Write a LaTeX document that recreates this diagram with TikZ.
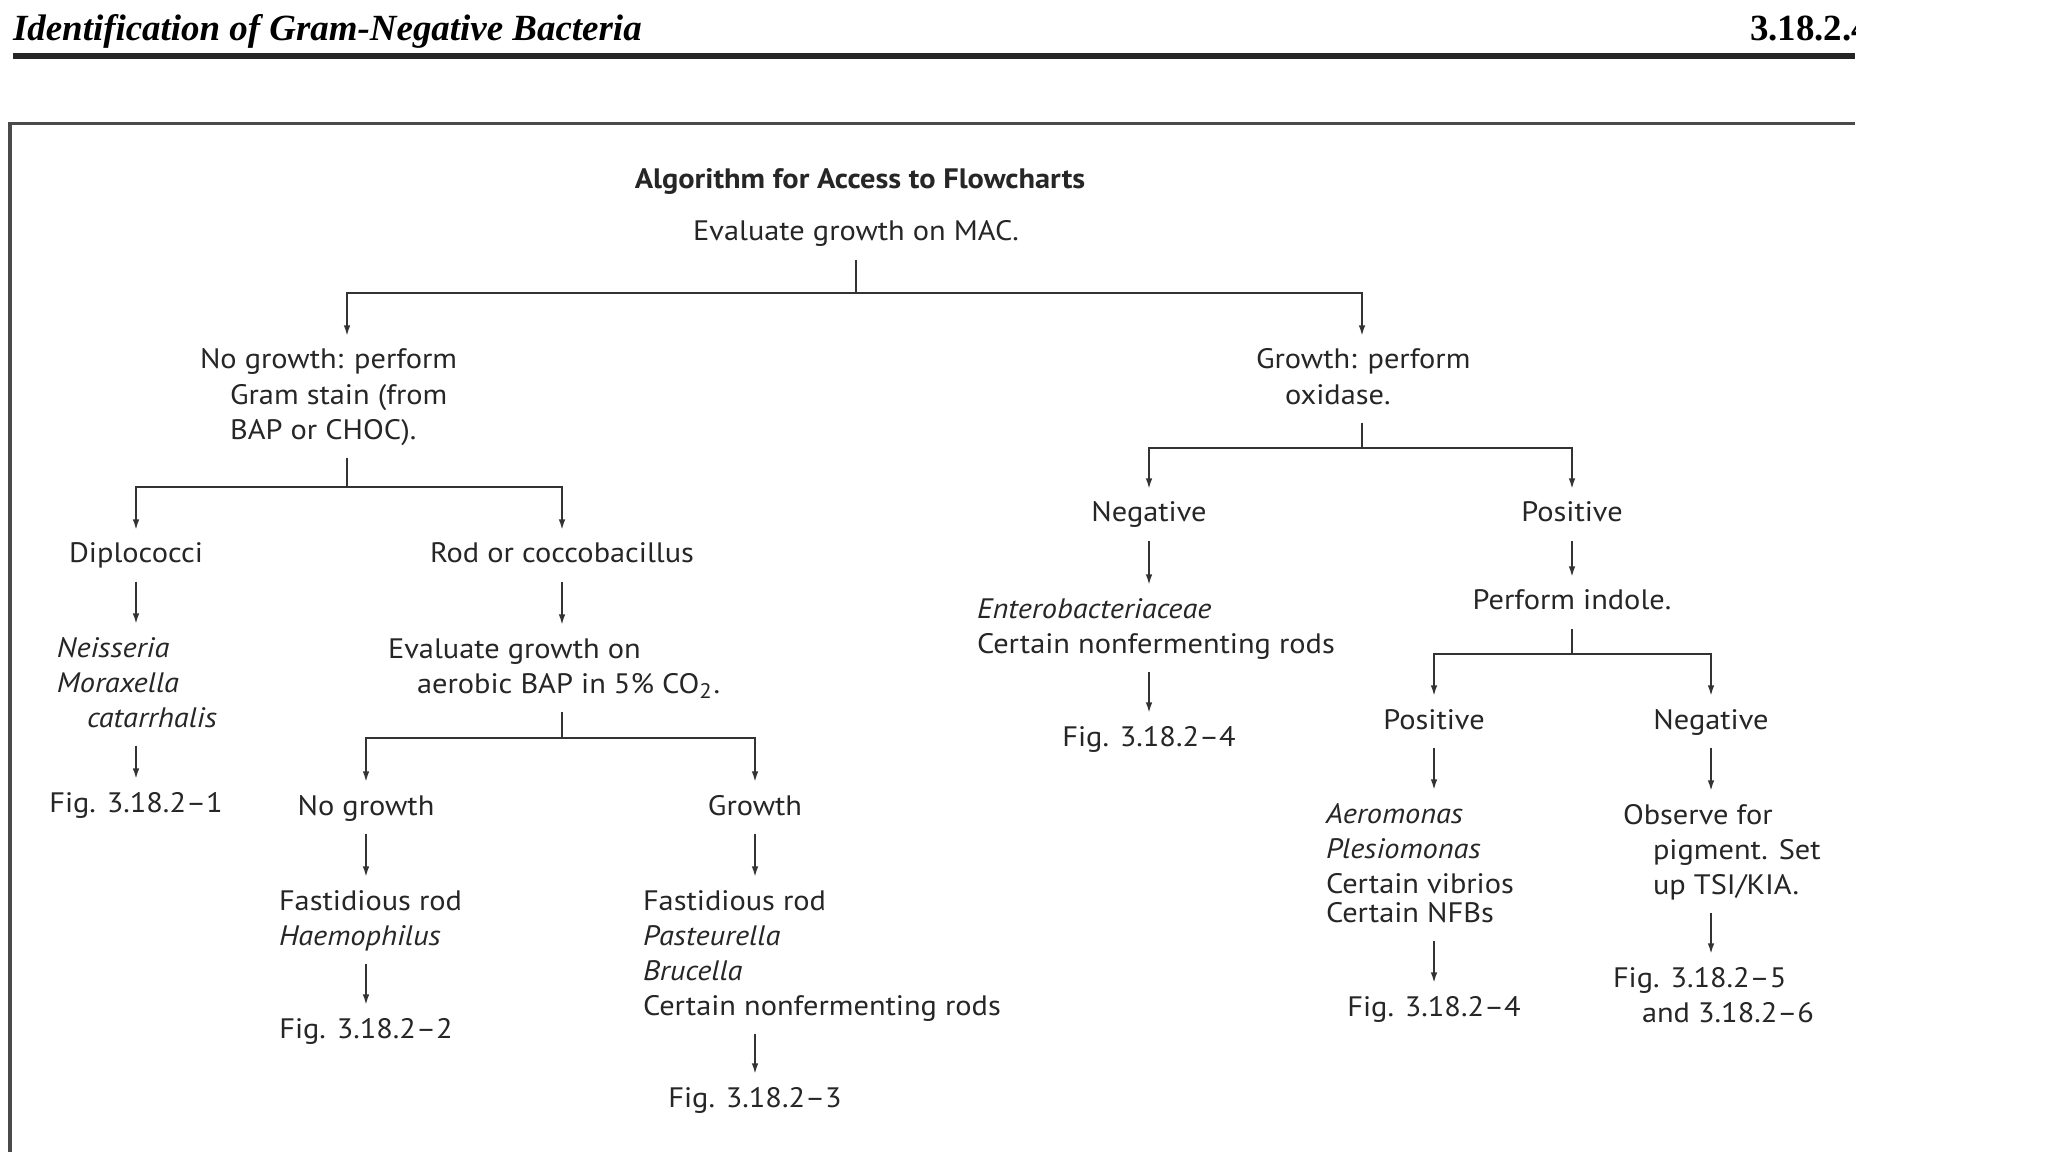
\documentclass[tikz,border=0pt]{standalone}
\usepackage{fontspec}
\setmainfont{PT Sans}[FakeStretch=1.08]
\newfontfamily\hdfont{Liberation Serif}
\usetikzlibrary{arrows.meta}
\definecolor{ink}{HTML}{262626}
\definecolor{rulec}{HTML}{333333}
\definecolor{framec}{HTML}{4a4a4a}
\newcommand{\mlines}[1]{\begin{tabular}[t]{@{}l@{}}#1\end{tabular}}
\newcommand{\ind}{\hspace*{0.3cm}}
\begin{document}
\begin{tikzpicture}[x=0.01cm,y=-0.01cm,
  every node/.style={inner sep=0pt, outer sep=0pt, text=ink, font=\fontsize{8.0}{9.96}\selectfont},
  lbl/.style={anchor=base},
  lft/.style={anchor=base west},
  conn/.style={draw=rulec, line width=0.6pt},
  arr/.style={conn, -{Latex[length=1.1mm,width=0.65mm]}, shorten >=0.08cm, shorten <=0.08cm},
  stem/.style={conn, shorten <=0.08cm},
  fork/.style={conn, {Latex[length=1.1mm,width=0.65mm]}-{Latex[length=1.1mm,width=0.65mm]}, shorten >=0.08cm, shorten <=0.08cm},
]
\useasboundingbox (0,0) rectangle (2048,1152);
\fill[white] (0,0) rectangle (2048,1152);

% header
\begin{scope}
\clip (0,0) rectangle (1855,1152);
\node[anchor=base west, font=\hdfont\bfseries\itshape\fontsize{10.5}{12}\selectfont, text=black] (hd) at (13,41) {Identification of Gram-Negative Bacteria};
\node[anchor=base west, font=\hdfont\bfseries\fontsize{10.5}{12}\selectfont, text=black] (pg) at (1750,41) {3.18.2.4};
\end{scope}
\draw[line width=0.06cm, draw=black!85] (13,56) -- (1855,56);
\draw[line width=0.03cm, draw=framec] (1855,123.5) -- (10,123.5) -- (10,1152);

% nodes
\node[lbl, font=\bfseries\fontsize{8.0}{9.96}\selectfont] (title) at (860,189) {\mlines{Algorithm for Access to Flowcharts}};
\node[lbl] (mac) at (856,241) {\mlines{Evaluate growth on MAC.}};

\node[lft] (nogrow) at (200,369) {\mlines{No growth: perform\\ \ind Gram stain (from\\ \ind BAP or CHOC).}};
\node[lft] (growox) at (1256,369) {\mlines{Growth: perform\\ \hspace*{0.29cm}oxidase.}};

\node[lbl] (diplo) at (136,563) {\mlines{Diplococci}};
\node[lbl] (rod) at (562,563) {\mlines{Rod or coccobacillus}};

\node[lft] (neis) at (57,657) {\mlines{\textit{Neisseria}\\ \textit{Moraxella}\\ \ind\textit{catarrhalis}}};
\node[lbl] (fig1) at (136,812) {\mlines{Fig. 3.18.2--1}};

\node[lft] (evalbap) at (388,658) {\mlines{Evaluate growth on\\ \hspace*{0.29cm}aerobic BAP in 5\% CO\textsubscript{2}.}};

\node[lbl] (nog2) at (366,815) {\mlines{No growth}};
\node[lbl] (gro2) at (755,815) {\mlines{Growth}};

\node[lft] (fast1) at (279,910) {\mlines{Fastidious rod\\ \textit{Haemophilus}}};
\node[lbl] (fig2) at (366,1038) {\mlines{Fig. 3.18.2--2}};

\node[lft] (fast2) at (643,910) {\mlines{Fastidious rod\\ \textit{Pasteurella}\\ \textit{Brucella}\\ Certain nonfermenting rods}};
\node[lbl] (fig3) at (755,1107) {\mlines{Fig. 3.18.2--3}};

\node[lbl] (neg1) at (1149,522) {\mlines{Negative}};
\node[lbl] (pos1) at (1572,522) {\mlines{Positive}};

\node[lft] (entero) at (977,618) {\mlines{\textit{Enterobacteriaceae}\\ Certain nonfermenting rods}};
\node[lbl] (fig4a) at (1149,746) {\mlines{Fig. 3.18.2--4}};

\node[lbl] (indole) at (1572,610) {\mlines{Perform indole.}};
\node[lbl] (pos2) at (1434,729) {\mlines{Positive}};
\node[lbl] (neg2) at (1711,729) {\mlines{Negative}};

\node[lft] (aero) at (1326,823) {\mlines{\textit{Aeromonas}\\ \textit{Plesiomonas}\\ Certain vibrios\\[-0.06cm] Certain NFBs}};
\node[lbl] (fig4b) at (1434,1016) {\mlines{Fig. 3.18.2--4}};

\node[lft] (observe) at (1623,824) {\mlines{Observe for\\ \ind pigment. Set\\ \ind up TSI/KIA.}};
\node[lft] (fig56) at (1613,987) {\mlines{Fig. 3.18.2--5\\ \hspace*{0.29cm}and 3.18.2--6}};

% junction coordinates
\coordinate (b1m) at (856,293);  \coordinate (b1l) at (347,293);  \coordinate (b1r) at (1362,293);
\coordinate (b2m) at (347,487);  \coordinate (b2l) at (136,487);  \coordinate (b2r) at (562,487);
\coordinate (b3m) at (562,738);  \coordinate (b3l) at (366,738);  \coordinate (b3r) at (755,738);
\coordinate (b4m) at (1362,448); \coordinate (b4l) at (1149,448); \coordinate (b4r) at (1572,448);
\coordinate (b5m) at (1572,654); \coordinate (b5l) at (1434,654); \coordinate (b5r) at (1711,654);

% connectors
\draw[stem] (mac.south -| b1m) -- (b1m);
\draw[fork] (b1l |- nogrow.north) -- (b1l) -- (b1r) -- (b1r |- growox.north);

\draw[stem] (nogrow.south -| b2m) -- (b2m);
\draw[fork] (b2l |- diplo.north) -- (b2l) -- (b2r) -- (b2r |- rod.north);

\draw[arr] (diplo.south) -- (diplo.south |- neis.north);
\draw[arr] (neis.south -| diplo.south) -- (fig1.north);

\draw[arr] (rod.south) -- (rod.south |- evalbap.north);
\draw[stem] (evalbap.south -| b3m) -- (b3m);
\draw[fork] (b3l |- nog2.north) -- (b3l) -- (b3r) -- (b3r |- gro2.north);

\draw[arr] (nog2.south) -- (nog2.south |- fast1.north);
\draw[arr] (fast1.south -| nog2.south) -- (fig2.north);
\draw[arr] (gro2.south) -- (gro2.south |- fast2.north);
\draw[arr] (fast2.south -| gro2.south) -- (fig3.north);

\draw[stem] (growox.south -| b4m) -- (b4m);
\draw[fork] (b4l |- neg1.north) -- (b4l) -- (b4r) -- (b4r |- pos1.north);

\draw[arr] (neg1.south) -- (neg1.south |- entero.north);
\draw[arr] (entero.south -| neg1.south) -- (fig4a.north);

\draw[arr] (pos1.south) -- (indole.north);
\draw[stem] (indole.south) -- (b5m);
\draw[fork] (b5l |- pos2.north) -- (b5l) -- (b5r) -- (b5r |- neg2.north);

\draw[arr] (pos2.south) -- (pos2.south |- aero.north);
\draw[arr] (aero.south -| pos2.south) -- (fig4b.north);
\draw[arr] (neg2.south) -- (neg2.south |- observe.north);
\draw[arr] (observe.south -| neg2.south) -- (neg2.south |- fig56.north);
\end{tikzpicture}
\end{document}
